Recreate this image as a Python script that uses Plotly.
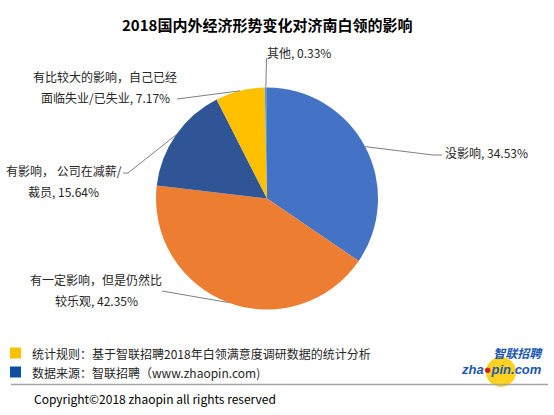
import math
import plotly.graph_objects as go

W, H = 554, 415

# data
categories = [
    "没影响",
    "有一定影响，但是仍然比\n较乐观",
    "有影响， 公司在减薪/\n裁员",
    "有比较大的影响，自己已经\n面临失业/已失业",
    "其他",
]
shares = [34.53, 42.35, 15.64, 7.17, 0.33]
slice_colors = ["#4472C4", "#ED7D31", "#2F5597", "#FFC000", "#5B9BD5"]

title_text = "2018国内外经济形势变化对济南白领的影响"
note_lines = ["统计规则：基于智联招聘2018年白领满意度调研数据的统计分析",
              "数据来源：智联招聘（www.zhaopin.com)"]
note_colors = ["#FFC000", "#0B4EA2"]
copyright_text = "Copyright©2018 zhaopin all rights reserved"

FONT = "Noto Sans CJK SC, Noto Sans, sans-serif"

# pie geometry in pixels
cx, cy, r = 267, 198.5, 111


def px(x):
    return x / W


def py(y):
    return 1 - y / H


# label placement: text x, anchor, first line y, leader points towards label
label_layout = [
    dict(x=443, anchor="left", y=152, path=[(433, 155), (442, 155)]),
    dict(x=96, anchor="center", y=279, path=[(162, 291)]),
    dict(x=63.5, anchor="center", y=170, path=[(128, 173), (123, 173)]),
    dict(x=105, anchor="center", y=77, path=[(177, 99)]),
    dict(x=265, anchor="left", y=53, path=[(266.5, 58)]),
]

fig = go.Figure()
fig.add_trace(go.Pie(
    labels=[c.replace("\n", "") for c in categories],
    values=shares,
    sort=False,
    direction="clockwise",
    rotation=0,
    marker=dict(colors=slice_colors, line=dict(width=0)),
    textinfo="none",
    hoverinfo="skip",
    showlegend=False,
    domain=dict(x=[px(cx - r), px(cx + r)], y=[py(cy + r), py(cy - r)]),
))

annotations = []
shapes = []

# leader lines start at each slice's mid angle on the rim
total = sum(shares)
cum = 0
for cat, val, lay in zip(categories, shares, label_layout):
    mid = (cum + val / 2) / total * 2 * math.pi
    cum += val
    ex = cx + r * math.sin(mid)
    ey = cy - r * math.cos(mid)
    pts = [(ex, ey)] + lay["path"]
    path = "M " + " L ".join(f"{px(x)},{py(y)}" for x, y in pts)
    shapes.append(dict(type="path", path=path, xref="paper", yref="paper",
                       line=dict(color="#7F7F7F", width=1)))
    lines = f"{cat}, {val:.2f}%".split("\n")
    for i, ln in enumerate(lines):
        annotations.append(dict(
            text=ln, x=px(lay["x"]), y=py(lay["y"] + i * 21),
            xref="paper", yref="paper", xanchor=lay["anchor"], yanchor="middle",
            showarrow=False, font=dict(family=FONT, size=12, color="#262626")))

# title
annotations.append(dict(
    text=f"<b>{title_text}</b>", x=px(267), y=py(25), xref="paper", yref="paper",
    xanchor="center", yanchor="middle", showarrow=False,
    font=dict(family=FONT, size=15, color="#000000")))

# footer notes
for i, (txt, col) in enumerate(zip(note_lines, note_colors)):
    yc = 353 + i * 19
    shapes.append(dict(type="rect", xref="paper", yref="paper",
                       x0=px(10), x1=px(21), y0=py(yc - 5.5), y1=py(yc + 5.5),
                       fillcolor=col, line=dict(width=0)))
    annotations.append(dict(
        text=txt, x=px(30), y=py(yc), xref="paper", yref="paper",
        xanchor="left", yanchor="middle", showarrow=False,
        font=dict(family=FONT, size=12, color="#262626")))

# logo
shapes.append(dict(type="circle", xref="paper", yref="paper",
                   x0=px(486), x1=px(516), y0=py(387), y1=py(357),
                   fillcolor="#FFD21F", line=dict(width=0)))
annotations.append(dict(
    text=("<b><i>智联招聘</i></b><br>"
          "<span style='font-family:Liberation Sans, Arial, sans-serif;font-size:13px'>"
          "<b><i>zha<span style='color:#D0231B'>●</span>pin.com</i></b></span>"),
    x=px(545), y=py(360), xref="paper", yref="paper",
    xanchor="right", yanchor="middle", align="right", showarrow=False,
    font=dict(family=FONT, size=12, color="#1A56B0")))

# separator and copyright
shapes.append(dict(type="line", xref="paper", yref="paper",
                   x0=px(11), x1=px(548), y0=py(384.5), y1=py(384.5),
                   line=dict(color="#A6A6A6", width=1.5)))
annotations.append(dict(
    text=copyright_text, x=px(32), y=py(398), xref="paper", yref="paper",
    xanchor="left", yanchor="middle", showarrow=False,
    font=dict(family=FONT, size=12, color="#000000")))

fig.update_layout(
    width=W, height=H,
    margin=dict(l=0, r=0, t=0, b=0),
    paper_bgcolor="white",
    plot_bgcolor="white",
    annotations=annotations,
    shapes=shapes,
)

fig.write_html("out.html", config={"displayModeBar": False},
               post_script="document.body.style.margin='0';")
